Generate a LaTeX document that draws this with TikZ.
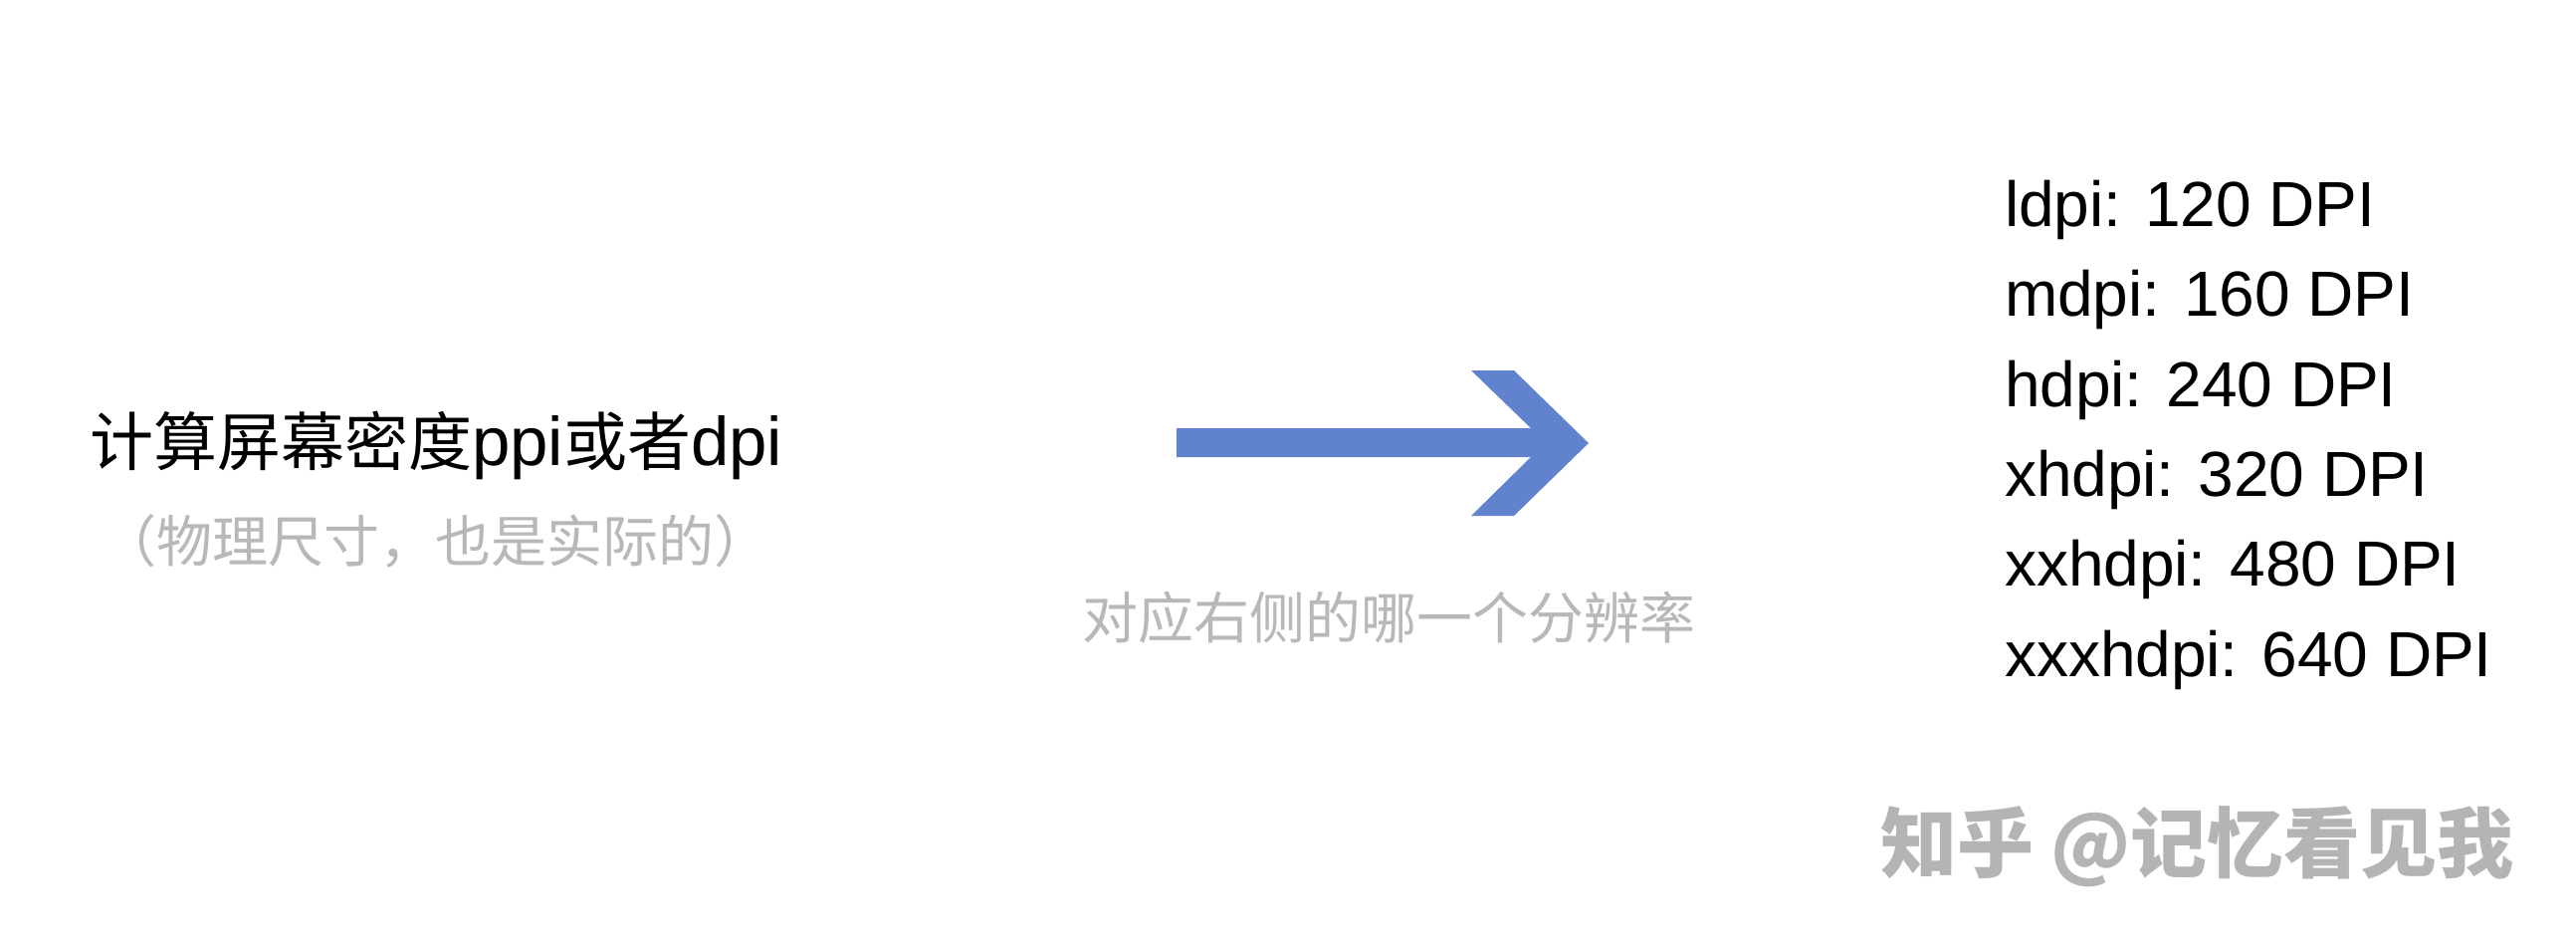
\documentclass[tikz,border=0pt]{standalone}
\usepackage{fontspec}
\setmainfont{Liberation Sans}
\newfontfamily\cjk{Noto Sans CJK SC}
\definecolor{arrowblue}{RGB}{97,130,204}
\definecolor{subgray}{RGB}{184,184,184}
\definecolor{markgray}{RGB}{180,180,180}
\begin{document}
\begin{tikzpicture}[x=1pt,y=-1pt,
  txt/.style={inner sep=0pt, outer sep=0pt, anchor=base west},
  maintxt/.style={txt, font=\fontsize{64}{64}\selectfont, text=black},
  subtxt/.style={txt, font=\fontsize{56}{56}\selectfont\cjk, text=subgray},
  dpitxt/.style={txt, font=\fontsize{64}{64}\selectfont, text=black},
  marktxt/.style={txt, font=\fontsize{77}{77}\selectfont\cjk\bfseries, text=markgray}]
\fill[white] (0,0) rectangle (2588,950);
\useasboundingbox (0,0) rectangle (2588,950);
% left texts
\node[maintxt] (main) at (90,467) {{\cjk 计算屏幕密度}{\fontsize{69}{69}\selectfont ppi}{\cjk 或者}{\fontsize{69}{69}\selectfont dpi}};
\node[subtxt] (sub) at (101,564) {（物理尺寸，也是实际的）};
% arrow
\coordinate (arrowtip) at (1596,445);
\fill[arrowblue] (1182,430) -- (1538,430) -- (1478,372) -- (1521,372) -- (arrowtip)
  -- (1521,518) -- (1478,518) -- (1538,459) -- (1182,459) -- cycle;
% middle text
\node[subtxt] (mid) at (1087,641) {对应右侧的哪一个分辨率};
% dpi list
\node[dpitxt] (l1) at (2014,227) {ldpi: 120 DPI};
\node[dpitxt] (l2) at (2014,317) {mdpi: 160 DPI};
\node[dpitxt] (l3) at (2014,408) {hdpi: 240 DPI};
\node[dpitxt] (l4) at (2014,498) {xhdpi: 320 DPI};
\node[dpitxt] (l5) at (2014,588) {xxhdpi: 480 DPI};
\node[dpitxt] (l6) at (2014,679) {xxxhdpi: 640 DPI};
% watermark
\node[marktxt] (mark) at (1889,875) {知乎 @记忆看见我};
\end{tikzpicture}
\end{document}
